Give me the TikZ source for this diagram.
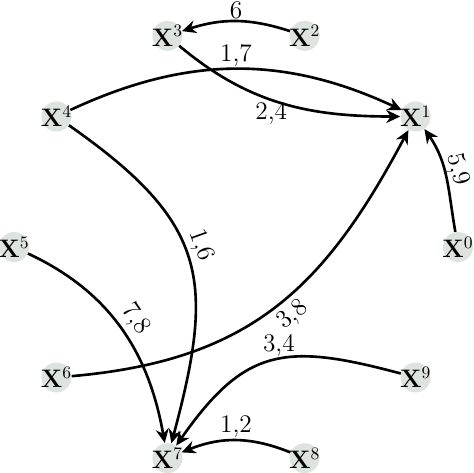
\documentclass[tikz,border=0pt]{standalone}
\usetikzlibrary{arrows.meta,calc}
\definecolor{nodefill}{RGB}{221,228,224}
\begin{document}
\begin{tikzpicture}[
    vertex/.style={circle, fill=nodefill, minimum size=0.6cm, inner sep=0pt, font=\Large},
    edge/.style={-{Stealth[length=2.8mm,width=2.6mm]}, line width=1.5pt},
    wt/.style={font=\Large, inner sep=1pt}]
    \useasboundingbox (0,0) rectangle (9.48,9.44);

    \foreach \i in {0,...,9}
        \node[vertex] (x\i) at ($(4.72,4.5)+({36*\i}:4.44)$) {\makebox[0pt]{$\mathbf{X}^{\i}$}};

    \draw[edge] (x2) to[bend right=18] node[wt, above, inner sep=0.5pt] {6} (x3);
    \draw[edge] (x4) to[bend left=25] node[wt, above] {1,7} (x1);
    \draw[edge] (x3) to[out=-40, in=180] node[wt, below, pos=0.45] {2,4} (x1);
    \draw[edge] (x0) to[out=100, in=-55] node[wt, above, sloped, pos=0.55, inner sep=0.5pt] {5,9} (x1);
    \draw[edge] (x4) to[out=-35, in=75, looseness=1.3] node[wt, above, sloped, pos=0.47, inner sep=2pt] {1,6} (x7);
    \draw[edge] (x6) to[out=5, in=-118, looseness=1.1] node[wt, below, sloped, pos=0.52, inner sep=3pt] {3,8} (x1);
    \draw[edge] (x5) to[out=-25, in=100] node[wt, above, sloped, inner sep=3pt] {7,8} (x7);
    \draw[edge] (x9) to[out=165, in=55, looseness=1.3] node[wt, above, pos=0.46] {3,4} (x7);
    \draw[edge] (x8) to[bend right=22] node[wt, above] {1,2} (x7);
\end{tikzpicture}
\end{document}
